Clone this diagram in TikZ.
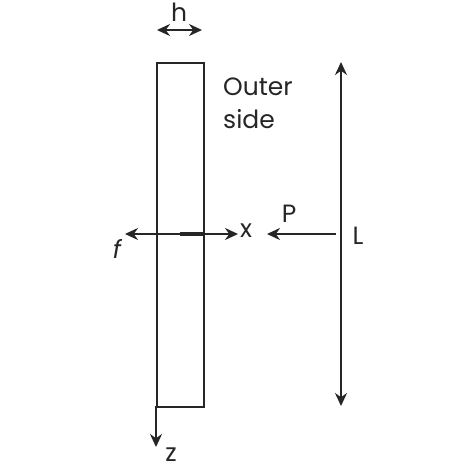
\documentclass[tikz,border=0pt]{standalone}
\usepackage{fontspec}
\setmainfont{Poppins}
\usetikzlibrary{arrows.meta}
\begin{document}
\begin{tikzpicture}[x=1pt,y=-1pt,
  ln/.style={line width=1.7pt,black!85},
  arr/.style={ln,-{Stealth[length=13pt,width=12pt]}},
  darr/.style={ln,{Stealth[length=13pt,width=12pt]}-{Stealth[length=13pt,width=12pt]}},
  lbl/.style={font=\fontsize{25}{33}\selectfont,text=black!85,inner sep=0pt}]
\useasboundingbox (0,0) rectangle (474,474);
\fill[white] (0,0) rectangle (474,474);
\node[draw,ln,minimum width=47pt,minimum height=344pt,inner sep=0pt,anchor=north west] (plate) at (156,62) {};
\coordinate (ha) at (157,30);
\coordinate (hb) at (202,30);
\draw[darr] (ha) -- (hb);
\node[lbl] (h) at (179,12) {h};
\node[lbl,align=left,anchor=north west] (outer) at (223,78) {Outer\\side};
\coordinate (la) at (341,62);
\coordinate (lb) at (341,406);
\draw[darr] (la) -- (lb);
\node[lbl] (L) at (358,236) {L};
\coordinate (pa) at (336,234);
\coordinate (pb) at (267,234);
\draw[arr,line width=2.6pt] (pa) -- (pb);
\node[lbl] (P) at (289,214) {P};
\coordinate (xo) at (180,234);
\coordinate (xl) at (125,234);
\coordinate (xr) at (238,234);
\draw[arr] (xo) -- (xl);
\draw[arr] (xo) -- (xr);
\draw[line width=4pt,black!85] (180,234) -- (203,234);
\node[lbl] (x) at (246,231) {x};
\node[lbl,font=\fontsize{25}{33}\selectfont\itshape] (f) at (117,249) {f};
\coordinate (za) at (156,406);
\coordinate (zb) at (156,447);
\draw[arr] (za) -- (zb);
\node[lbl] (z) at (171,455) {z};
\end{tikzpicture}
\end{document}
